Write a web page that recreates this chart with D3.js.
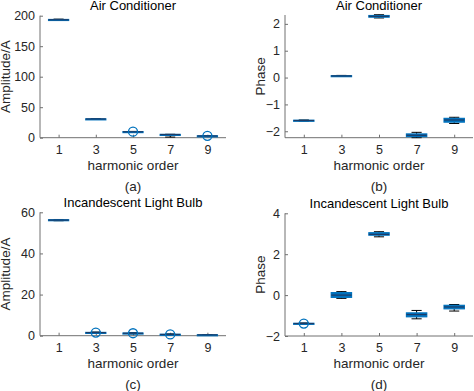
<!DOCTYPE html>
<html>
<head>
<meta charset="utf-8">
<script src="https://cdn.jsdelivr.net/npm/d3@7"></script>
<style>
  body { margin: 0; background: #fff; }
  svg { display: block; font-family: "Liberation Sans", Arial, sans-serif; }
</style>
</head>
<body>
<svg id="chart" width="474" height="391"></svg>
<script>
const harmonics = [1, 3, 5, 7, 9];

// each row: [lower whisker, q1, median, q3, upper whisker]
const acAmpStats = [
  [192.2, 192.8, 193.3, 193.8, 194.4],
  [30.2, 30.5, 30.7, 30.9, 31.2],
  [9.0, 9.4, 9.7, 10.0, 10.3],
  [1.0, 5.0, 5.2, 5.4, 5.6],
  [2.4, 2.7, 2.9, 3.1, 3.3]
];
const acAmpOutliers = [[], [], [9.8], [], [3.0]];

const acPhaseStats = [
  [-1.62, -1.61, -1.60, -1.59, -1.58],
  [0.04, 0.05, 0.06, 0.07, 0.08],
  [2.22, 2.25, 2.28, 2.31, 2.34],
  [-2.24, -2.20, -2.15, -2.10, -2.04],
  [-1.71, -1.66, -1.58, -1.52, -1.48]
];
const acPhaseOutliers = [[], [], [], [], []];

const bulbAmpStats = [
  [55.9, 56.0, 56.2, 56.4, 56.5],
  [1.2, 1.4, 1.5, 1.6, 1.8],
  [0.9, 1.1, 1.2, 1.3, 1.5],
  [0.3, 0.5, 0.6, 0.7, 0.9],
  [0.3, 0.35, 0.4, 0.45, 0.5]
];
const bulbAmpOutliers = [[], [1.5], [1.2], [0.6], []];

const bulbPhaseStats = [
  [-1.42, -1.40, -1.39, -1.38, -1.36],
  [-0.16, -0.11, 0.0, 0.12, 0.17],
  [2.85, 2.93, 2.97, 3.05, 3.10],
  [-1.16, -1.06, -0.95, -0.87, -0.75],
  [-0.78, -0.67, -0.58, -0.50, -0.46]
];
const bulbPhaseOutliers = [[-1.39], [], [], [], []];

const ampTicksAC = [0, 50, 100, 150, 200];
const phaseTicksAC = [-2, -1, 0, 1, 2];
const ampTicksBulb = [0, 20, 40, 60];
const phaseTicksBulb = [-2, 0, 2, 4];

const panels = [
  { title: "Air Conditioner", ylabel: "Amplitude/A", tag: "(a)", stats: acAmpStats, outliers: acAmpOutliers,
    ydom: [0, 200], yticks: ampTicksAC, left: 40, right: 226, top: 15.7, bottom: 137.7, ylabX: 10 },
  { title: "Air Conditioner", ylabel: "Phase", tag: "(b)", stats: acPhaseStats, outliers: acPhaseOutliers,
    ydom: [-2.24, 2.33], yticks: phaseTicksAC, left: 285, right: 473, top: 15.0, bottom: 137.7, ylabX: 265 },
  { title: "Incandescent Light Bulb", ylabel: "Amplitude/A", tag: "(c)", stats: bulbAmpStats, outliers: bulbAmpOutliers,
    ydom: [0, 60], yticks: ampTicksBulb, left: 40, right: 226, top: 212.3, bottom: 335.7, ylabX: 10 },
  { title: "Incandescent Light Bulb", ylabel: "Phase", tag: "(d)", stats: bulbPhaseStats, outliers: bulbPhaseOutliers,
    ydom: [-2, 4], yticks: phaseTicksBulb, left: 285, right: 473, top: 213.3, bottom: 336, ylabX: 265 }
];

const svg = d3.select("#chart");
const blue = "#0072BD";
const axisCol = "#707070";
const textCol = "#262626";

panels.forEach(p => {
  const x = d3.scaleLinear().domain([0, 10]).range([p.left, p.right]);
  const y = d3.scaleLinear().domain(p.ydom).range([p.bottom, p.top]);
  const g = svg.append("g");
  const cx = (p.left + p.right) / 2;

  // axes (MATLAB style: ticks inside, no box)
  const xAxis = d3.axisBottom(x).tickValues(harmonics).tickSize(-3).tickPadding(7).tickFormat(d3.format("d"));
  const yAxis = d3.axisLeft(y).tickValues(p.yticks).tickSize(-3).tickPadding(5).tickFormat(d3.format("d"));

  const gx = g.append("g").attr("transform", `translate(0,${p.bottom})`).call(xAxis);
  const gy = g.append("g").attr("transform", `translate(${p.left},0)`).call(yAxis);
  [gx, gy].forEach(a => {
    a.select(".domain").attr("stroke", axisCol).attr("d", null);
    a.selectAll(".tick line").attr("stroke", axisCol);
    a.selectAll(".tick text").attr("fill", textCol).style("font-size", "12.5px");
  });
  gx.select(".domain").remove();
  gy.select(".domain").remove();
  g.append("line").attr("x1", p.left).attr("x2", p.right).attr("y1", p.bottom).attr("y2", p.bottom)
    .attr("stroke", axisCol);
  g.append("line").attr("x1", p.left).attr("x2", p.left).attr("y1", p.top).attr("y2", p.bottom)
    .attr("stroke", axisCol);

  // boxes
  const half = (x(2) - x(1)) * 0.54;
  const capHalf = half * 0.5;
  p.stats.forEach((s, i) => {
    const h = harmonics[i];
    const px = x(h);
    const [lo, q1, med, q3, hi] = s;
    const bg = g.append("g");
    bg.append("line").attr("x1", px).attr("x2", px).attr("y1", y(hi)).attr("y2", y(q3))
      .attr("stroke", "#000").attr("stroke-width", 1);
    bg.append("line").attr("x1", px).attr("x2", px).attr("y1", y(q1)).attr("y2", y(lo))
      .attr("stroke", "#000").attr("stroke-width", 1);
    [lo, hi].forEach(v => {
      bg.append("line").attr("x1", px - capHalf).attr("x2", px + capHalf).attr("y1", y(v)).attr("y2", y(v))
        .attr("stroke", "#000").attr("stroke-width", 1);
    });
    const top = y(q3), hgt = Math.max(y(q1) - y(q3), 1);
    bg.append("rect").attr("x", px - half).attr("width", half * 2)
      .attr("y", top).attr("height", hgt)
      .attr("fill", blue).attr("stroke", blue).attr("stroke-width", 1.2);
    bg.append("line").attr("x1", px - half).attr("x2", px + half).attr("y1", y(med)).attr("y2", y(med))
      .attr("stroke", "#1d3b66").attr("stroke-width", 1.2);
    p.outliers[i].forEach(v => {
      bg.append("circle").attr("cx", px).attr("cy", y(v)).attr("r", 4.5)
        .attr("fill", "none").attr("stroke", blue).attr("stroke-width", 1.3);
    });
  });

  // texts
  g.append("text").attr("x", cx).attr("y", p.top - 5.5).attr("text-anchor", "middle")
    .attr("fill", "#000").style("font-size", "13px").text(p.title);
  g.append("text").attr("x", cx).attr("y", p.bottom + 32).attr("text-anchor", "middle")
    .attr("fill", textCol).style("font-size", "13.5px").text("harmonic order");
  g.append("text").attr("x", cx).attr("y", p.bottom + 53).attr("text-anchor", "middle")
    .attr("fill", textCol).style("font-size", "13.5px").text(p.tag);
  g.append("text").attr("transform", `translate(${p.ylabX},${(p.top + p.bottom) / 2}) rotate(-90)`)
    .attr("text-anchor", "middle").attr("fill", textCol).style("font-size", "13.5px").text(p.ylabel);
});
</script>
</body>
</html>
